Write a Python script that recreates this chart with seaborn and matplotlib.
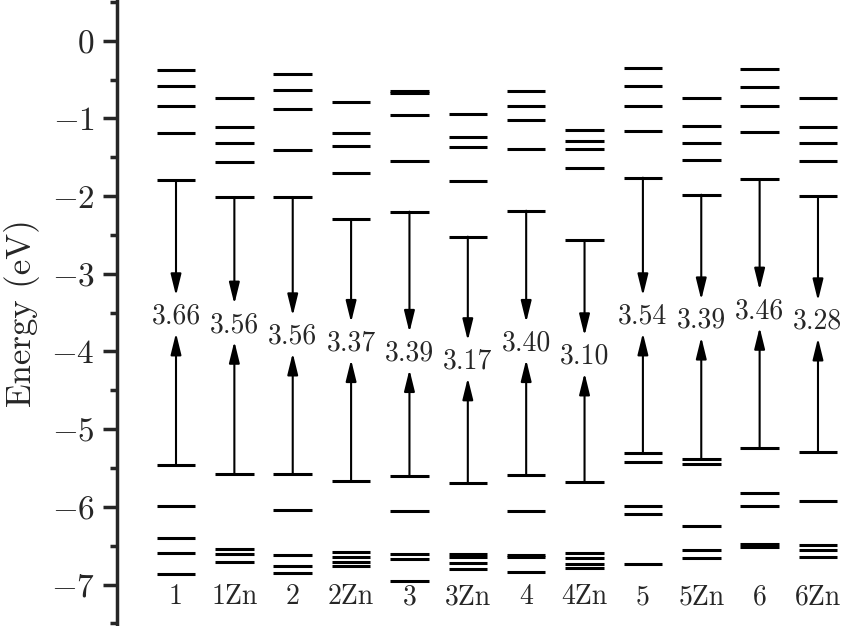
import numpy as np
import pandas as pd
import seaborn as sns
import matplotlib.pyplot as plt
from matplotlib.ticker import FuncFormatter

systems = ['1', '1Zn', '2', '2Zn', '3', '3Zn', '4', '4Zn', '5', '5Zn', '6', '6Zn']

# unoccupied levels (eV), LUMO is the last one
unocc = [
    [-0.373, -0.587, -0.840, -1.188, -1.797],
    [-0.741, -1.107, -1.317, -1.561, -2.012],
    [-0.425, -0.631, -0.879, -1.407, -2.012],
    [-0.793, -1.192, -1.355, -1.703, -2.295],
    [-0.647, -0.677, -0.952, -1.548, -2.200],
    [-0.947, -1.239, -1.368, -1.806, -2.522],
    [-0.643, -0.844, -1.017, -1.390, -2.188],
    [-1.153, -1.291, -1.394, -1.634, -2.565],
    [-0.355, -0.587, -0.837, -1.162, -1.763],
    [-0.737, -1.102, -1.313, -1.535, -1.982],
    [-0.368, -0.596, -0.840, -1.179, -1.784],
    [-0.741, -1.115, -1.313, -1.548, -2.003],
]

# occupied levels (eV), HOMO is the first one
occ = [
    [-5.457, -5.985, -6.404, -6.597, -6.867],
    [-5.577, -6.542, -6.610, -6.713],
    [-5.577, -6.040, -6.620, -6.757, -6.855],
    [-5.671, -6.584, -6.641, -6.705, -6.761],
    [-5.598, -6.057, -6.610, -6.665, -6.950],
    [-5.692, -6.600, -6.640, -6.726, -6.800],
    [-5.594, -6.057, -6.615, -6.645, -6.842],
    [-5.676, -6.597, -6.662, -6.739, -6.790],
    [-5.306, -5.426, -5.985, -6.088, -6.735],
    [-5.379, -5.444, -6.242, -6.550, -6.662],
    [-5.246, -5.821, -5.993, -6.480, -6.520],
    [-5.290, -5.924, -6.490, -6.556, -6.641],
]

gaps = ['3.66', '3.56', '3.56', '3.37', '3.39', '3.17', '3.40', '3.10', '3.54', '3.39', '3.46', '3.28']
gap_label_y = [-3.552, -3.659, -3.810, -3.895, -4.023, -4.130, -3.895, -4.067, -3.552, -3.605, -3.479, -3.617]

rows = []
for i, s in enumerate(systems):
    for e in unocc[i] + occ[i]:
        rows.append({'system': s, 'x': i, 'energy': e})
df = pd.DataFrame(rows)

sns.set_style('ticks')
plt.rcParams['font.family'] = ['cmr10', 'DejaVu Serif']
plt.rcParams['mathtext.fontset'] = 'cm'
plt.rcParams['axes.formatter.use_mathtext'] = True

fig = plt.figure(figsize=(8.46, 6.26), dpi=100)
ax = fig.add_axes([0.1383, 0.0, 0.8617, 1.0])

half = 0.33
ax.hlines(df['energy'], df['x'] - half, df['x'] + half, color='black', lw=2.2)

arrow_style = dict(arrowstyle='-|>,head_length=0.65,head_width=0.16',
                   lw=1.5, color='black', mutation_scale=20, shrinkA=0, shrinkB=0)
for i, s in enumerate(systems):
    lumo = unocc[i][-1]
    homo = occ[i][0]
    ly = gap_label_y[i]
    ax.annotate('', xy=(i, ly + 0.27), xytext=(i, lumo), arrowprops=arrow_style)
    ax.annotate('', xy=(i, ly - 0.21), xytext=(i, homo), arrowprops=arrow_style)
    ax.text(i, ly, gaps[i], ha='center', va='center', fontsize=20)
    ax.text(i, -7.16, s, ha='center', va='center', fontsize=20)

ax.set_xlim(-1.011, 11.48)
ax.set_ylim(-7.533, 0.524)
ax.set_yticks(np.arange(-7, 1, 1))
ax.set_yticks(np.arange(-7.5, 0.6, 0.5), minor=True)
ax.yaxis.set_major_formatter(FuncFormatter(lambda v, p: f'${v:g}$'))
ax.tick_params(axis='y', which='major', length=10, width=2.5, labelsize=24, pad=6, direction='out')
ax.tick_params(axis='y', which='minor', length=5, width=2.5, direction='out')
ax.set_xticks([])
ax.set_ylabel('Energy (eV)', fontsize=25, labelpad=8)
sns.despine(ax=ax, bottom=True)
ax.spines['left'].set_linewidth(2.5)

fig.savefig('out.png', dpi=100)
